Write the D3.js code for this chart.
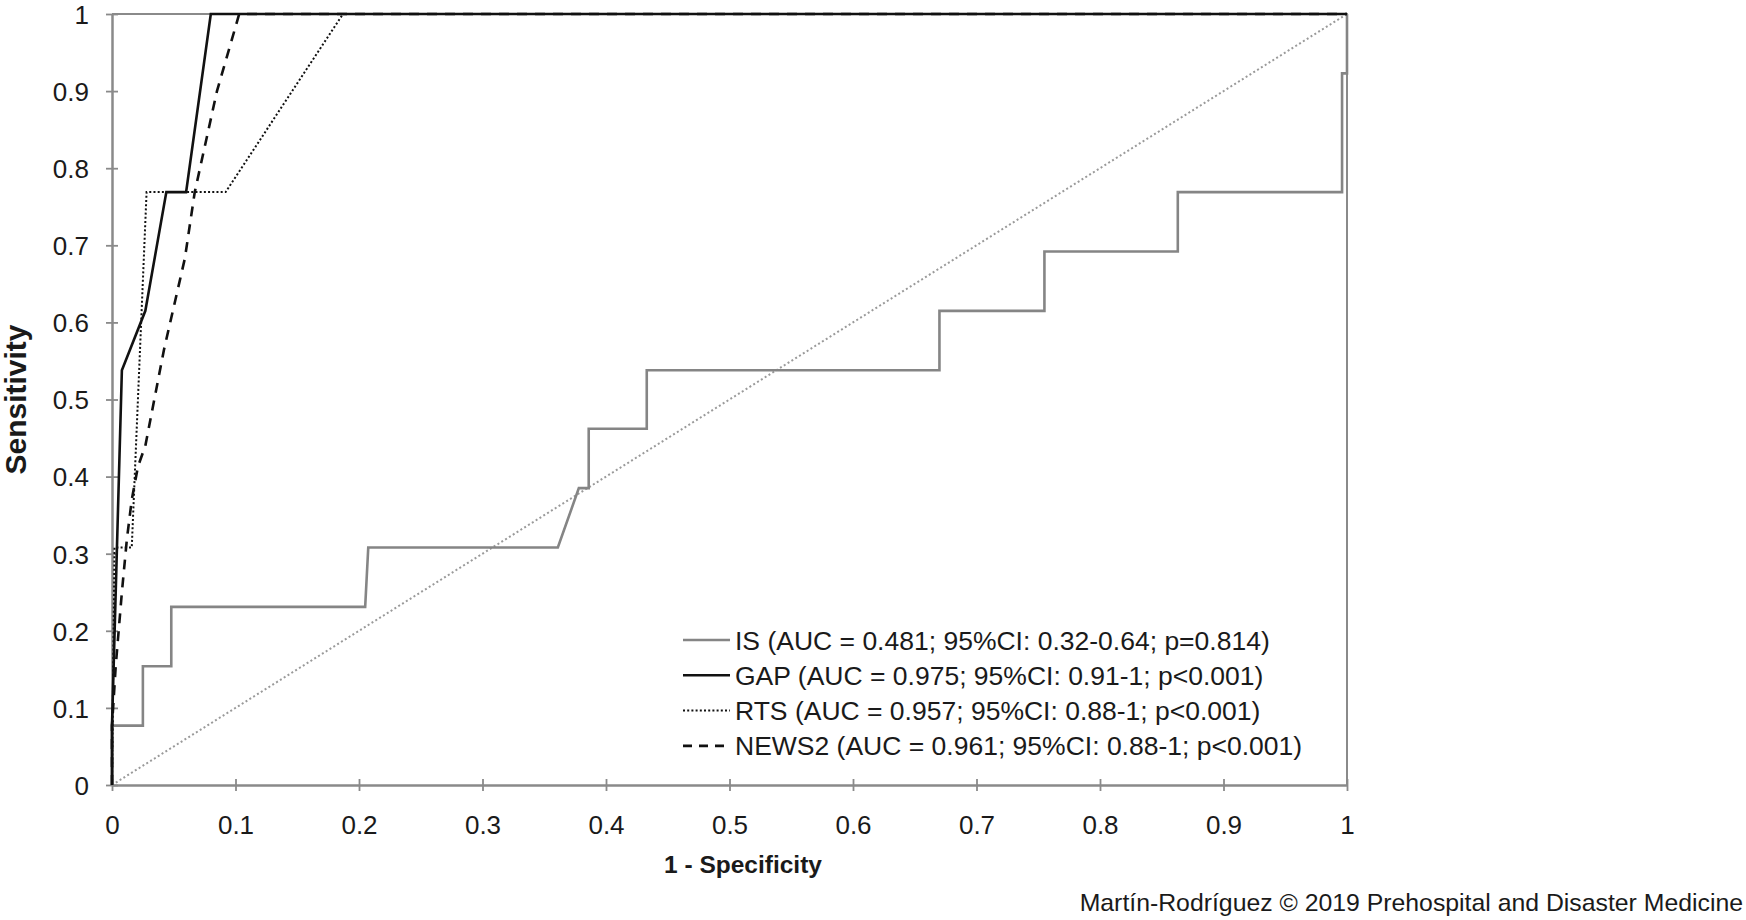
<!DOCTYPE html>
<html>
<head>
<meta charset="utf-8">
<script src="https://cdn.jsdelivr.net/npm/d3@7"></script>
<style>
  html, body { margin: 0; padding: 0; background: #fff; }
  svg text { font-family: "Liberation Sans", Arial, sans-serif; fill: #1a1a1a; }
</style>
</head>
<body>
<svg id="chart"></svg>
<script>
// puntos (1 - especificidad, sensibilidad)
const isFpr   = [0, 0, 0.025, 0.025, 0.048, 0.048, 0.205, 0.2075, 0.361, 0.378, 0.386, 0.386, 0.433, 0.433, 0.670, 0.670, 0.755, 0.755, 0.863, 0.863, 0.996, 0.996, 1, 1];
const isTpr   = [0, 0.077, 0.077, 0.154, 0.154, 0.231, 0.231, 0.308, 0.308, 0.385, 0.385, 0.462, 0.462, 0.538, 0.538, 0.615, 0.615, 0.692, 0.692, 0.769, 0.769, 0.923, 0.923, 1];
const gapFpr  = [0, 0, 0.008, 0.027, 0.044, 0.060, 0.080, 1];
const gapTpr  = [0, 0.077, 0.538, 0.615, 0.769, 0.769, 1, 1];
const rtsFpr  = [0, 0.002, 0.016, 0.028, 0.092, 0.187, 1];
const rtsTpr  = [0, 0.308, 0.308, 0.769, 0.769, 1, 1];
const newsFpr = [0, 0, 0.003, 0.008, 0.012, 0.016, 0.021, 0.027, 0.042, 0.059, 0.067, 0.085, 0.103, 1];
const newsTpr = [0, 0.077, 0.154, 0.25, 0.318, 0.37, 0.413, 0.44, 0.564, 0.683, 0.769, 0.9, 1, 1];

const tickValues = [0, 0.1, 0.2, 0.3, 0.4, 0.5, 0.6, 0.7, 0.8, 0.9, 1];
const tickLabels = ["0", "0.1", "0.2", "0.3", "0.4", "0.5", "0.6", "0.7", "0.8", "0.9", "1"];

const seriesNames = ["IS", "GAP", "RTS", "NEWS2"];
const legendLabels = [
  "IS (AUC = 0.481; 95%CI: 0.32-0.64; p=0.814)",
  "GAP (AUC = 0.975; 95%CI: 0.91-1; p<0.001)",
  "RTS (AUC = 0.957; 95%CI: 0.88-1; p<0.001)",
  "NEWS2 (AUC = 0.961; 95%CI: 0.88-1; p<0.001)"
];

const width = 1746;
const height = 920;
const axisGray = "#8a8a8a";

const svg = d3.select("#chart")
              .attr("width", width)
              .attr("height", height);

const x = d3.scaleLinear().domain([0, 1]).range([112, 1347]);
const y = d3.scaleLinear().domain([0, 1]).range([785, 14]);

const zip = (xs, ys) => xs.map((v, i) => [v, ys[i]]);
const line = d3.line().x(d => x(d[0])).y(d => y(d[1]));

// marco superior y derecho
svg.append("path")
   .attr("d", line([[0, 1], [1, 1], [1, 0]]))
   .attr("fill", "none")
   .attr("stroke", axisGray)
   .attr("stroke-width", 2);

// diagonal de referencia
svg.append("path")
   .attr("d", line([[0, 0], [1, 1]]))
   .attr("fill", "none")
   .attr("stroke", "#9a9a9a")
   .attr("stroke-width", 2)
   .attr("stroke-dasharray", "2,2.5");

// ejes
const fmt = d => tickLabels[tickValues.indexOf(d)];
const xAxis = svg.append("g")
   .attr("transform", `translate(0,${y(0)})`)
   .call(d3.axisBottom(x).tickValues(tickValues).tickFormat(fmt).tickSizeOuter(0));
const yAxis = svg.append("g")
   .attr("transform", `translate(${x(0)},0)`)
   .call(d3.axisLeft(y).tickValues(tickValues).tickFormat(fmt).tickSizeOuter(0));

[xAxis, yAxis].forEach(g => {
  g.select(".domain").attr("stroke", axisGray).attr("stroke-width", 2.5);
  g.selectAll(".tick line").attr("stroke", axisGray).attr("stroke-width", 1.8);
  g.selectAll(".tick text")
   .attr("font-size", 26)
   .attr("font-family", "'Liberation Sans', Arial, sans-serif")
   .attr("fill", "#1a1a1a");
});
xAxis.selectAll(".tick line").attr("y1", -6).attr("y2", 6);
xAxis.selectAll(".tick text").attr("y", 0).attr("dy", "0.36em").attr("transform", "translate(0,40)");
yAxis.selectAll(".tick line").attr("x1", -6).attr("x2", 6);
yAxis.selectAll(".tick text").attr("x", -23).attr("dy", "0.36em");

// curvas
const styles = {
  IS:    { stroke: "#858585", width: 2.6, dash: null },
  RTS:   { stroke: "#111", width: 2, dash: "2,2.2" },
  NEWS2: { stroke: "#111", width: 2.6, dash: "10,8" },
  GAP:   { stroke: "#111", width: 2.6, dash: null }
};
const seriesData = {
  IS: zip(isFpr, isTpr),
  GAP: zip(gapFpr, gapTpr),
  RTS: zip(rtsFpr, rtsTpr),
  NEWS2: zip(newsFpr, newsTpr)
};

["IS", "RTS", "NEWS2", "GAP"].forEach(name => {
  const s = styles[name];
  svg.append("path")
     .attr("d", line(seriesData[name]))
     .attr("fill", "none")
     .attr("stroke", s.stroke)
     .attr("stroke-width", s.width)
     .attr("stroke-dasharray", s.dash)
     .attr("stroke-linejoin", "miter");
});

// leyenda
const legend = svg.append("g").attr("transform", "translate(683,640)");
seriesNames.forEach((name, i) => {
  const s = styles[name];
  const row = legend.append("g").attr("transform", `translate(0,${i * 35.3})`);
  row.append("line")
     .attr("x1", 0).attr("x2", 47)
     .attr("stroke", s.stroke)
     .attr("stroke-width", s.width)
     .attr("stroke-dasharray", name === "NEWS2" ? "9,7" : s.dash);
  row.append("text")
     .attr("x", 52)
     .attr("dy", "0.36em")
     .attr("font-size", 26.5)
     .text(legendLabels[i]);
});

// titulos de ejes
svg.append("text")
   .attr("x", 743)
   .attr("y", 864)
   .attr("dy", "0.36em")
   .attr("text-anchor", "middle")
   .attr("font-size", 24.5)
   .attr("font-weight", "bold")
   .text("1 - Specificity");

svg.append("text")
   .attr("transform", `translate(15,${(y(0) + y(1)) / 2}) rotate(-90)`)
   .attr("dy", "0.36em")
   .attr("text-anchor", "middle")
   .attr("font-size", 30)
   .attr("font-weight", "bold")
   .text("Sensitivity");

svg.append("text")
   .attr("x", 1743)
   .attr("y", 902)
   .attr("dy", "0.36em")
   .attr("text-anchor", "end")
   .attr("font-size", 24.8)
   .text("Martín-Rodríguez © 2019 Prehospital and Disaster Medicine");
</script>
</body>
</html>
